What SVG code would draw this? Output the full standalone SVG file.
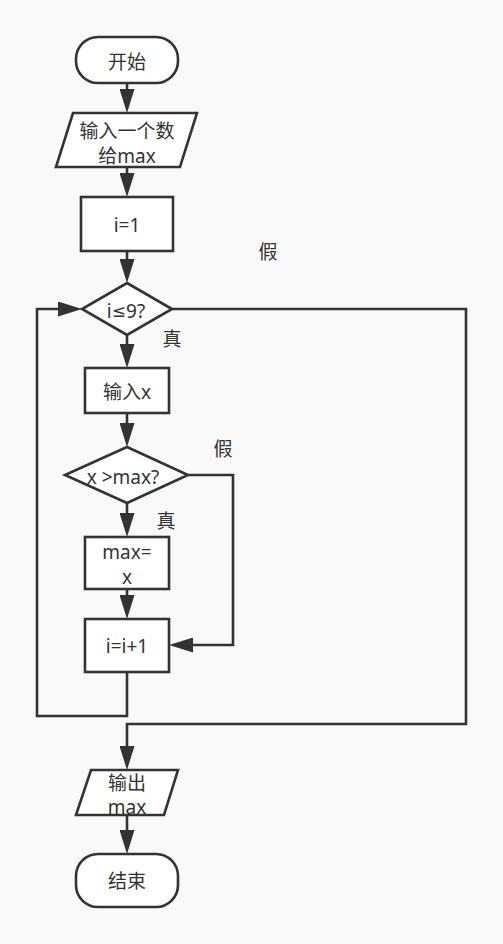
<svg xmlns="http://www.w3.org/2000/svg" width="503" height="944" viewBox="0 0 503 944">
<style>
.s{fill:#ffffff;stroke:#333333;stroke-width:2.6}
.c{fill:none;stroke:#333333;stroke-width:2.6}
.t{font-family:"Noto Sans","Noto Sans CJK SC",sans-serif;font-size:19px;fill:#333333;text-anchor:middle;dominant-baseline:central}
.le{font-family:"DejaVu Sans",sans-serif;font-size:17px}
</style>
<defs>
<marker id="ah" markerUnits="userSpaceOnUse" viewBox="0 0 24 15" refX="12" refY="7.5" markerWidth="24" markerHeight="15" orient="auto">
<path d="M0,0 L24,7.5 L0,15 z" fill="#333333"/>
</marker>
</defs>
<rect width="503" height="944" fill="#f9f9f9"/>
<g id="connectors">
<path class="c" d="M127,83 V101" marker-end="url(#ah)"/>
<path class="c" d="M127,167 V185" marker-end="url(#ah)"/>
<path class="c" d="M127,251 V271" marker-end="url(#ah)"/>
<path class="c" d="M127,335 V356" marker-end="url(#ah)"/>
<path class="c" d="M127,413 V435" marker-end="url(#ah)"/>
<path class="c" d="M127,503 V525" marker-end="url(#ah)"/>
<path class="c" d="M127,589 V607" marker-end="url(#ah)"/>
<path class="c" d="M188,475 H233 V645 H181" marker-end="url(#ah)"/>
<path class="c" d="M127,672 V716 H37 V309 H70" marker-end="url(#ah)"/>
<path class="c" d="M172,309 H466 V724 H127 V758" marker-end="url(#ah)"/>
<path class="c" d="M127,815 V842" marker-end="url(#ah)"/>
<text class="t" x="268" y="252">假</text>
<text class="t" x="172" y="339">真</text>
<text class="t" x="223" y="449">假</text>
<text class="t" x="166" y="521">真</text>
</g>
<g id="start">
<rect class="s" x="76" y="37" width="102" height="46" rx="22" ry="22"/>
<text class="t" x="127" y="62">开始</text>
</g>
<g id="input-max">
<polygon class="s" points="73,113 197,113 180,167 56,167"/>
<text class="t" x="127" y="131">输入一个数</text>
<text class="t" x="127" y="156">给max</text>
</g>
<g id="init-i">
<rect class="s" x="81" y="197" width="92" height="54"/>
<text class="t" x="127" y="225">i=1</text>
</g>
<g id="cond-i">
<polygon class="s" points="127,283 172,309 127,335 82,309"/>
<text class="t" x="126" y="311">i<tspan class="le">≤</tspan>9?</text>
</g>
<g id="input-x">
<rect class="s" x="85" y="368" width="84" height="45"/>
<text class="t" x="127" y="392">输入x</text>
</g>
<g id="cond-x">
<polygon class="s" points="127,447 188,475 127,503 65,475"/>
<text class="t" x="123" y="477">x &gt;max?</text>
</g>
<g id="assign-max">
<rect class="s" x="85" y="537" width="84" height="52"/>
<text class="t" x="127" y="552">max=</text>
<text class="t" x="127" y="577">x</text>
</g>
<g id="inc-i">
<rect class="s" x="85" y="619" width="84" height="53"/>
<text class="t" x="127" y="646">i=i+1</text>
</g>
<g id="output-max">
<polygon class="s" points="91,770 178,770 164,815 76,815"/>
<text class="t" x="127" y="783">输出</text>
<text class="t" x="127" y="807">max</text>
</g>
<g id="end">
<rect class="s" x="76" y="854" width="102" height="53" rx="22" ry="22"/>
<text class="t" x="127" y="881">结束</text>
</g>
</svg>
